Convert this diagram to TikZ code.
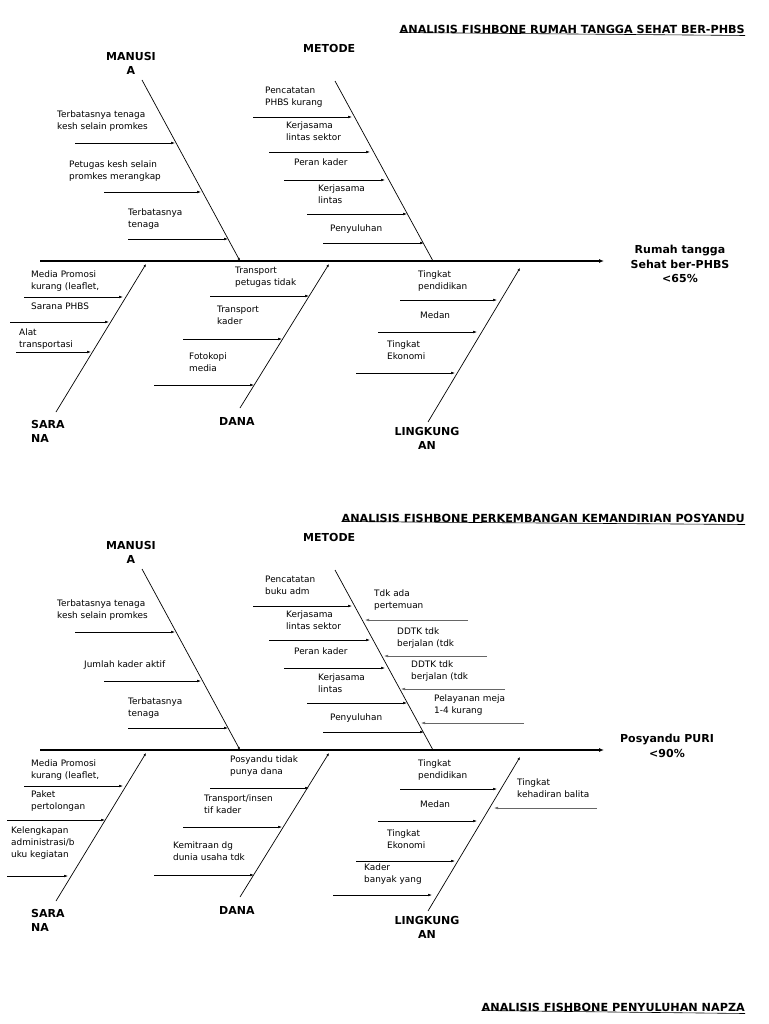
\documentclass[tikz,border=0pt]{standalone}
\usepackage{fontspec}
\setmainfont{DejaVu Sans}
\usetikzlibrary{arrows.meta}
\tikzset{
  lbl/.style={font=\fontsize{8.9}{11.8}\selectfont, align=left, anchor=north west, inner sep=0pt},
  cat/.style={font=\bfseries\fontsize{11}{14}\selectfont, align=left, anchor=north west, inner sep=0pt},
  ttl/.style={font=\bfseries\fontsize{11.2}{12}\selectfont, anchor=south east, inner sep=0pt},
  arr/.style={-{Latex[length=4pt,width=2.6pt]}, line width=0.5pt},
  garr/.style={-{Latex[length=4pt,width=2.6pt]}, line width=0.5pt, draw=gray!80!black},
  bone/.style={line width=0.7pt},
  spine/.style={line width=1.6pt,-{Latex[length=5pt,width=4pt]}}
}
% \cz[style]{name}{x1}{x2}{y}{tx}{ty}{text}
\newcommand\cz[8][arr]{%
  \node[lbl] (#2t) at (#6,#7) {#8};
  \coordinate (#2a) at (#3,#5); \coordinate (#2b) at (#4,#5);
  \draw[#1] (#2a) -- (#2b);}
\begin{document}
\begin{tikzpicture}[x=1pt,y=-1pt]
\useasboundingbox (0,0) rectangle (768,1024);
% ===== Diagram 1 =====
\node[ttl] (t1) at (745,34) {ANALISIS FISHBONE RUMAH TANGGA SEHAT BER-PHBS};
\draw[line width=0.6pt] (t1.south west)++(0,-1.5) -- ([yshift=-1.5pt]t1.south east);
\coordinate (s1a) at (40,261); \coordinate (s1b) at (604,261);
\draw[spine] (s1a) -- (s1b);
\node[font=\bfseries\fontsize{11}{14.5}\selectfont, align=center] (e1) at (680,264) {Rumah tangga\\Sehat ber-PHBS\\<65\%};
% manusia
\node[cat, align=center, anchor=north] (m1) at (131,52) {MANUSI\\A};
\coordinate (m1a) at (142,80); \coordinate (m1b) at (240,261);
\draw[bone,-{Latex[length=3pt,width=2.5pt]}] (m1a) -- (m1b);
\cz{p1}{75}{175}{143}{57}{111}{Terbatasnya tenaga\\kesh selain promkes}
\cz{p2}{104}{201}{192}{69}{161}{Petugas kesh selain\\promkes merangkap}
\cz{p3}{128}{228}{239}{128}{209}{Terbatasnya\\tenaga}
% metode
\node[cat] (me1) at (303,44) {METODE};
\coordinate (me1a) at (335,81); \coordinate (me1b) at (433,261);
\draw[bone] (me1a) -- (me1b);
\cz{q1}{253}{352}{117}{265}{87}{Pencatatan\\PHBS kurang}
\cz{q2}{269}{370}{152}{286}{122}{Kerjasama\\lintas sektor}
\cz{q3}{284}{385}{180}{294}{159}{Peran kader}
\cz{q4}{307}{407}{214}{318}{185}{Kerjasama\\lintas}
\cz{q5}{323}{424}{243}{330}{225}{Penyuluhan}
% sarana
\node[cat] (sa1) at (31,420) {SARA\\NA};
\coordinate (sa1a) at (56,412); \coordinate (sa1b) at (146,264);
\draw[bone,-{Latex[length=3pt,width=2.5pt]}] (sa1a) -- (sa1b);
\cz{r1}{24}{123}{297}{31}{271}{Media Promosi\\kurang (leaflet,}
\cz{r2}{10}{109}{322}{31}{303}{Sarana PHBS}
\cz{r3}{16}{91}{352}{19}{329}{Alat\\transportasi}
% dana
\node[cat] (d1) at (219,417) {DANA};
\coordinate (d1a) at (240,408); \coordinate (d1b) at (329,264);
\draw[bone,-{Latex[length=3pt,width=2.5pt]}] (d1a) -- (d1b);
\cz{u1}{210}{309}{296}{235}{267}{Transport\\petugas tidak}
\cz{u2}{183}{282}{339}{217}{306}{Transport\\kader}
\cz{u3}{154}{254}{385}{189}{353}{Fotokopi\\media}
% lingkungan
\node[cat, align=center, anchor=north] (l1) at (427,427) {LINGKUNG\\AN};
\coordinate (l1a) at (428,422); \coordinate (l1b) at (520,268);
\draw[bone,-{Latex[length=3pt,width=2.5pt]}] (l1a) -- (l1b);
\cz{v1}{400}{497}{300}{418}{271}{Tingkat\\pendidikan}
\cz{v2}{378}{477}{332}{420}{312}{Medan}
\cz{v3}{356}{455}{373}{387}{341}{Tingkat\\Ekonomi}
% ===== Diagram 2 =====
\node[ttl] (t2) at (745,523) {ANALISIS FISHBONE PERKEMBANGAN KEMANDIRIAN POSYANDU};
\draw[line width=0.6pt] (t2.south west)++(0,-1.5) -- ([yshift=-1.5pt]t2.south east);
\coordinate (s2a) at (40,750); \coordinate (s2b) at (604,750);
\draw[spine] (s2a) -- (s2b);
\node[font=\bfseries\fontsize{11}{14.5}\selectfont, align=center] (e2) at (667,746) {Posyandu PURI\\<90\%};
\node[cat, align=center, anchor=north] (m2) at (131,541) {MANUSI\\A};
\coordinate (m2a) at (142,569); \coordinate (m2b) at (240,750);
\draw[bone,-{Latex[length=3pt,width=2.5pt]}] (m2a) -- (m2b);
\cz{p4}{75}{175}{632}{57}{600}{Terbatasnya tenaga\\kesh selain promkes}
\cz{p5}{104}{201}{681}{84}{661}{Jumlah kader aktif}
\cz{p6}{128}{228}{728}{128}{698}{Terbatasnya\\tenaga}
\node[cat] (me2) at (303,533) {METODE};
\coordinate (me2a) at (335,570); \coordinate (me2b) at (433,750);
\draw[bone] (me2a) -- (me2b);
\cz{q6}{253}{352}{606}{265}{576}{Pencatatan\\buku adm}
\cz{q7}{269}{370}{640}{286}{611}{Kerjasama\\lintas sektor}
\cz{q8}{284}{385}{668}{294}{648}{Peran kader}
\cz{q9}{307}{407}{703}{318}{674}{Kerjasama\\lintas}
\cz{q10}{323}{424}{732}{330}{714}{Penyuluhan}
\cz[garr]{w1}{468}{365}{620}{374}{590}{Tdk ada\\pertemuan}
\cz[garr]{w2}{487}{384}{656}{397}{628}{DDTK tdk\\berjalan (tdk}
\cz[garr]{w3}{505}{401}{689}{411}{661}{DDTK tdk\\berjalan (tdk}
\cz[garr]{w4}{524}{421}{723}{434}{695}{Pelayanan meja\\1-4 kurang}
\node[cat] (sa2) at (31,909) {SARA\\NA};
\coordinate (sa2a) at (56,901); \coordinate (sa2b) at (146,753);
\draw[bone,-{Latex[length=3pt,width=2.5pt]}] (sa2a) -- (sa2b);
\cz{r4}{24}{123}{786}{31}{760}{Media Promosi\\kurang (leaflet,}
\cz{r5}{7}{105}{820}{31}{791}{Paket\\pertolongan}
\cz{r6}{7}{68}{876}{11}{827}{Kelengkapan\\administrasi/b\\uku kegiatan}
\node[cat] (d2) at (219,906) {DANA};
\coordinate (d2a) at (240,897); \coordinate (d2b) at (329,753);
\draw[bone,-{Latex[length=3pt,width=2.5pt]}] (d2a) -- (d2b);
\cz{u4}{210}{309}{788}{230}{756}{Posyandu tidak\\punya dana}
\cz{u5}{183}{282}{827}{204}{795}{Transport/insen\\tif kader}
\cz{u6}{154}{254}{875}{173}{842}{Kemitraan dg\\dunia usaha tdk}
\node[cat, align=center, anchor=north] (l2) at (427,916) {LINGKUNG\\AN};
\coordinate (l2a) at (428,911); \coordinate (l2b) at (520,757);
\draw[bone,-{Latex[length=3pt,width=2.5pt]}] (l2a) -- (l2b);
\cz{v4}{400}{497}{789}{418}{760}{Tingkat\\pendidikan}
\cz{v5}{378}{477}{821}{420}{801}{Medan}
\cz{v6}{356}{455}{861}{387}{830}{Tingkat\\Ekonomi}
\cz{v7}{333}{432}{895}{364}{864}{Kader\\banyak yang}
\cz[garr]{v8}{597}{494}{808}{517}{779}{Tingkat\\kehadiran balita}
% ===== Diagram 3 title =====
\node[ttl] (t3) at (745,1012) {ANALISIS FISHBONE PENYULUHAN NAPZA};
\draw[line width=0.6pt] (t3.south west)++(0,-1.5) -- ([yshift=-1.5pt]t3.south east);
\end{tikzpicture}
\end{document}
